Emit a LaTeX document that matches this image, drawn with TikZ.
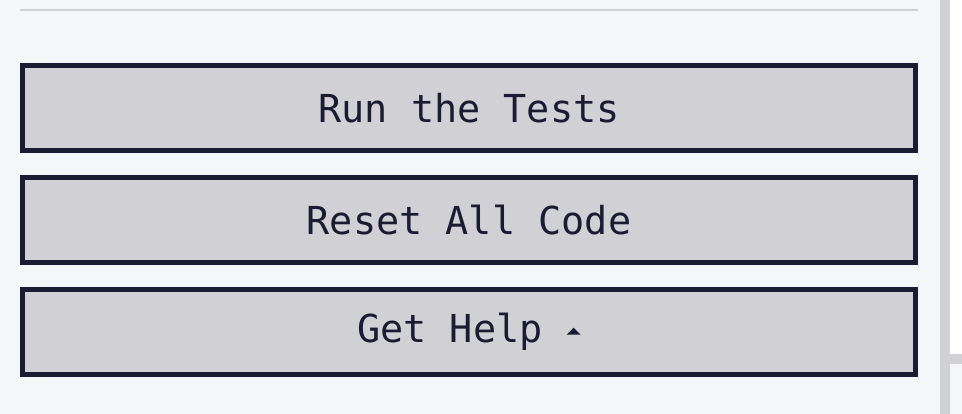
\documentclass[tikz,border=0pt]{standalone}
\usepackage{fontspec}
\setmonofont{DejaVu Sans Mono}
\usetikzlibrary{shapes.geometric}
\definecolor{pagebg}{HTML}{F5F6F8}
\definecolor{btnfill}{HTML}{D0D0D5}
\definecolor{btnline}{HTML}{1B1B32}
\definecolor{rulegray}{HTML}{D0D0D5}
\begin{document}
\begin{tikzpicture}[x=1pt, y=-1pt,
		actionbtn/.style={draw=btnline, line width=5pt, fill=btnfill, minimum width=893pt, minimum height=85pt, inner sep=0pt, text=btnline, font=\ttfamily\fontsize{38.5}{40}\selectfont}
		]
		
		% ---- FONDO ----
		\fill[pagebg] (0,0) rectangle (962,414);
		\fill[rulegray] (940,0) rectangle (950,414);
		\fill[white] (950,0) rectangle (962,354);
		\fill[rulegray] (950,354) rectangle (962,364);
		\draw[rulegray, line width=1.5pt] (20,10) -- (918,10);
		
		% ---- BOTONES ----
		\node[actionbtn] (tests) at (469,108) {\raisebox{-2pt}{Run the Tests}};
		\node[actionbtn] (reset) at (469,220) {\raisebox{-2pt}{Reset All Code}};
		\node[actionbtn] (help) at (469,332) {\raisebox{-2pt}{Get Help}\hspace{24pt}\raisebox{6pt}{\tikz\fill[btnline] (0,0) -- (14pt,0) -- (7pt,7pt) -- cycle;}\hspace{18pt}};
		
	\end{tikzpicture}
\end{document}
